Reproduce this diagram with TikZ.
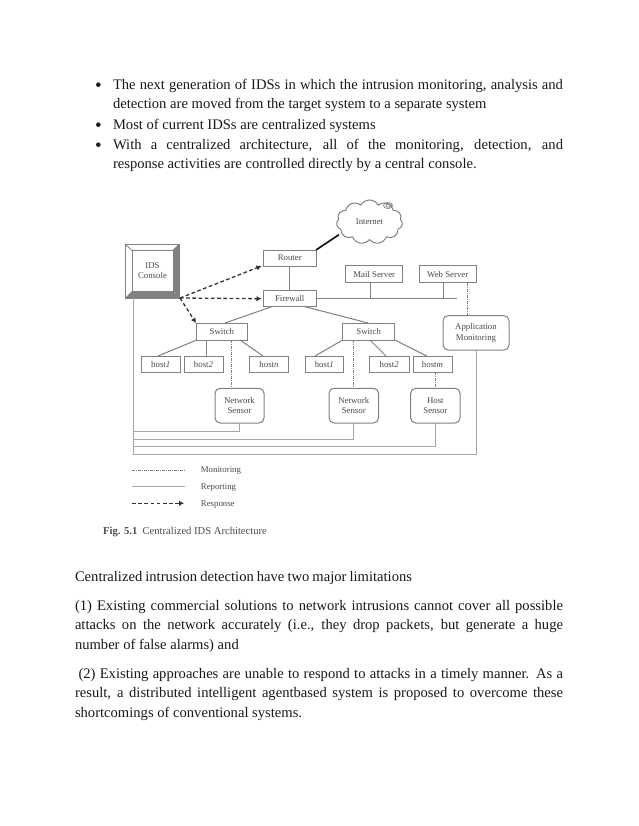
\documentclass[tikz,border=0pt]{standalone}
\usepackage{fontspec}
\setmainfont{Liberation Serif}
\usetikzlibrary{shapes.symbols,arrows.meta}
\definecolor{diagtxt}{HTML}{4A4A4A}
\definecolor{edge}{HTML}{808080}
\definecolor{rep}{HTML}{A6A6A6}
\tikzset{
  x=1pt,y=-1pt,
  bx/.style={draw=edge,line width=1pt,fill=white,inner sep=0pt,outer sep=0pt,align=center,text=diagtxt,font=\fontsize{8.8}{10.6}\selectfont},
  rbx/.style={bx,rounded corners=5pt},
  link/.style={draw=edge,line width=1pt},
  moni/.style={draw=edge,line width=.9pt,dash pattern=on 3pt off 1pt on 1pt off 1pt},
  repo/.style={draw=rep,line width=.9pt},
  resp/.style={draw=black!80,line width=1.3pt,dash pattern=on 3.6pt off 2.6pt,-{Latex[length=5pt,width=5.5pt]}},
  pg/.style={anchor=base west,inner sep=0pt,outer sep=0pt,font=\fontsize{14.6}{16}\selectfont,text=black!90},
  bul/.style={pg,font=\fontsize{19}{20}\selectfont},
  leg/.style={anchor=west,inner sep=0pt,text=diagtxt,font=\fontsize{8.8}{10.6}\selectfont},
}
\newcommand{\bxn}[7][bx]{% style,name,x1,y1,x2,y2,text
  \pgfmathsetmacro{\cxx}{(#3+#5)/2}\pgfmathsetmacro{\cyy}{(#4+#6)/2}
  \pgfmathsetmacro{\wdd}{#5-#3}\pgfmathsetmacro{\htt}{#6-#4}
  \node[#1,minimum width=\wdd pt,minimum height=\htt pt] (#2) at (\cxx,\cyy) {#7};}
\newcommand{\jl}[2]{\makebox[#1pt][s]{#2}}
\begin{document}
\begin{tikzpicture}
\useasboundingbox (0,0) rectangle (638,826);
\fill[white] (0,0) rectangle (638,826);
% page text
\node[bul] (b1) at (95,92) {•};
\node[pg] (t1) at (113,89.3) {\jl{450}{The next generation of IDSs in which the intrusion monitoring, analysis and}};
\node[pg] (t2) at (113,108.3) {detection are moved from the target system to a separate system};
\node[bul] (b2) at (95,132) {•};
\node[pg] (t3) at (113,129.3) {Most of current IDSs are centralized systems};
\node[bul] (b3) at (95,152) {•};
\node[pg] (t4) at (113,149.3) {\jl{450}{With a centralized architecture, all of the monitoring, detection, and}};
\node[pg] (t5) at (113,168.7) {response activities are controlled directly by a central console.};
\node[pg] (p1) at (75,581) {\jl{337}{Centralized intrusion detection have two major limitations}};
\node[pg] (p2) at (75,610) {\jl{488}{(1) Existing commercial solutions to network intrusions cannot cover all possible}};
\node[pg] (p3) at (75,629.3) {\jl{488}{attacks on the network accurately (i.e., they drop packets, but generate a huge}};
\node[pg] (p4) at (75,649.3) {number of false alarms) and};
\node[pg] (p5) at (78.5,678.3) {\jl{484.5}{(2) Existing approaches are unable to respond to attacks in a timely manner. As a}};
\node[pg] (p6) at (75,697.7) {\jl{488}{result, a distributed intelligent agentbased system is proposed to overcome these}};
\node[pg] (p7) at (75,717.7) {shortcomings of conventional systems.};
% console
\bxn[bx]{console}{125}{244}{179.3}{298}{}
\fill[edge] (console.north east) -- (console.south east) -- (173,291) -- (173,250.5) -- cycle;
\fill[edge] (console.south west) -- (console.south east) -- (173,291) -- (132,291) -- cycle;
\draw[link,line width=.8pt] (console.north west) -- (132,250.5) (console.north east) -- (173,250.5);
\bxn[bx]{consin}{132}{250.5}{173}{291}{IDS\\Console}
% boxes
\bxn[bx]{router}{263.5}{250}{316}{266}{Router}
\bxn[bx]{fw}{263.5}{290.7}{316}{306.7}{Firewall}
\bxn[bx]{mail}{345.7}{265.7}{402.7}{282.5}{Mail Server}
\bxn[bx]{web}{419}{265.7}{476.5}{282.5}{Web Server}
\bxn[bx]{swa}{196}{323}{247.7}{340}{Switch}
\bxn[bx]{swb}{342.7}{323}{394.7}{340}{Switch}
\bxn[bx]{ha}{141}{356}{180.5}{372}{host\textit{1}}
\bxn[bx]{hb}{184}{356}{223}{372}{host\textit{2}}
\bxn[bx]{hc}{249.5}{356}{288.5}{372}{host\textit{n}}
\bxn[bx]{hd}{305}{356}{343.7}{372}{host\textit{1}}
\bxn[bx]{he}{369.3}{356}{409}{372}{host\textit{2}}
\bxn[bx]{hf}{413}{356}{452}{372}{host\textit{m}}
\bxn[rbx]{app}{443}{315.7}{509}{350}{Application\\Monitoring}
\bxn[rbx]{nsa}{215}{388.3}{264}{423}{Network\\Sensor}
\bxn[rbx]{nsb}{329}{388.3}{378.5}{423}{Network\\Sensor}
\bxn[rbx]{hs}{410.7}{388.3}{460}{423}{Host\\Sensor}
% cloud
\node[cloud,cloud puffs=11,cloud puff arc=120,aspect=1.7,draw=edge,line width=1pt,fill=white,inner sep=0pt,minimum width=66pt,minimum height=44pt,text=diagtxt,font=\fontsize{8.8}{10.6}\selectfont] (cloud) at (369.5,222) {Internet};
\draw[edge,line width=.7pt] (388,205.5) ellipse (4.5 and 3) (388.5,205.5) ellipse (2.5 and 1.5);
\draw[black!90,line width=1.7pt] (router.north east) -- ([xshift=-7pt,yshift=3pt]cloud.south west);
% links
\draw[link] (router) -- (fw);
\draw[link] ([xshift=8.2pt]fw.south west) -- ([xshift=29pt]swa.north west);
\draw[link] ([xshift=-11pt]fw.south east) -- ([xshift=25.3pt]swb.north west);
\coordinate (busend) at (456.7,298.7);
\draw[link] (fw.east) -- (busend);
\draw[link] ([xshift=24.3pt]mail.south west) -- ([xshift=24.3pt]mail.south west |- busend);
\draw[link] ([xshift=24.7pt]web.south west) -- ([xshift=24.7pt]web.south west |- busend);
\draw[link] ([xshift=.7pt]swa.south west) -- ([xshift=17pt]ha.north west);
\draw[link] ([xshift=10.7pt]swa.south west) -- ([xshift=22.7pt]hb.north west);
\draw[link] ([xshift=44pt]swa.south west) -- ([xshift=13.5pt]hc.north west);
\draw[link] (swb.south west) -- ([xshift=10pt]hd.north west);
\draw[link] ([xshift=27.3pt]swb.south west) -- ([xshift=16.7pt]he.north west);
\draw[link] ([xshift=52pt]swb.south west) -- ([xshift=13.7pt]hf.north west);
% monitoring
\draw[moni] ([xshift=35pt]swa.south west) -- ([xshift=16pt]nsa.north west);
\draw[moni] ([xshift=10.8pt]swb.south west) -- ([xshift=24.5pt]nsb.north west);
\draw[moni] ([xshift=22.5pt]hf.south west) -- ([xshift=24.8pt]hs.north west);
\draw[moni] ([xshift=48.7pt]web.south west) -- ([xshift=24.7pt]app.north west);
% reporting
\coordinate (l1) at (133.3,431.3);
\coordinate (l2) at (133.3,439.3);
\coordinate (l3) at (133.3,446);
\coordinate (l4) at (133.3,454.3);
\coordinate (r4) at (476,454.3);
\draw[repo] (nsa.south) |- (l1);
\draw[repo] (nsb.south) |- (l2);
\draw[repo] (hs.south) |- (l3);
\draw[repo] (app.south) -- (r4) -- (l4) -- ([xshift=8.3pt]console.south west);
% response
\coordinate (src) at (180,298);
\draw[resp] (src) -- ([xshift=-2pt,yshift=0pt]router.south west);
\draw[resp] (src) -- ([xshift=-2pt]fw.west);
\draw[resp] (src) -- (swa.north west);
% legend
\coordinate (la) at (132,470); \coordinate (lb) at (185,470);
\coordinate (lc) at (132,486.7); \coordinate (ld) at (185,486.7);
\coordinate (le) at (132,503.3); \coordinate (lf) at (184,503.3);
\draw[moni] (la) -- (lb);
\draw[repo] (lc) -- (ld);
\draw[resp] (le) -- (lf);
\node[leg] (m) at (200.7,471) {Monitoring};
\node[leg] (n) at (200.7,487.7) {Reporting};
\node[leg] (o) at (200.7,504.3) {Response};
\node[anchor=west,inner sep=0pt,text=diagtxt,font=\fontsize{10.6}{12}\selectfont] (cap) at (103,532) {\textbf{Fig. 5.1}\ \ Centralized IDS Architecture};
\end{tikzpicture}
\end{document}
